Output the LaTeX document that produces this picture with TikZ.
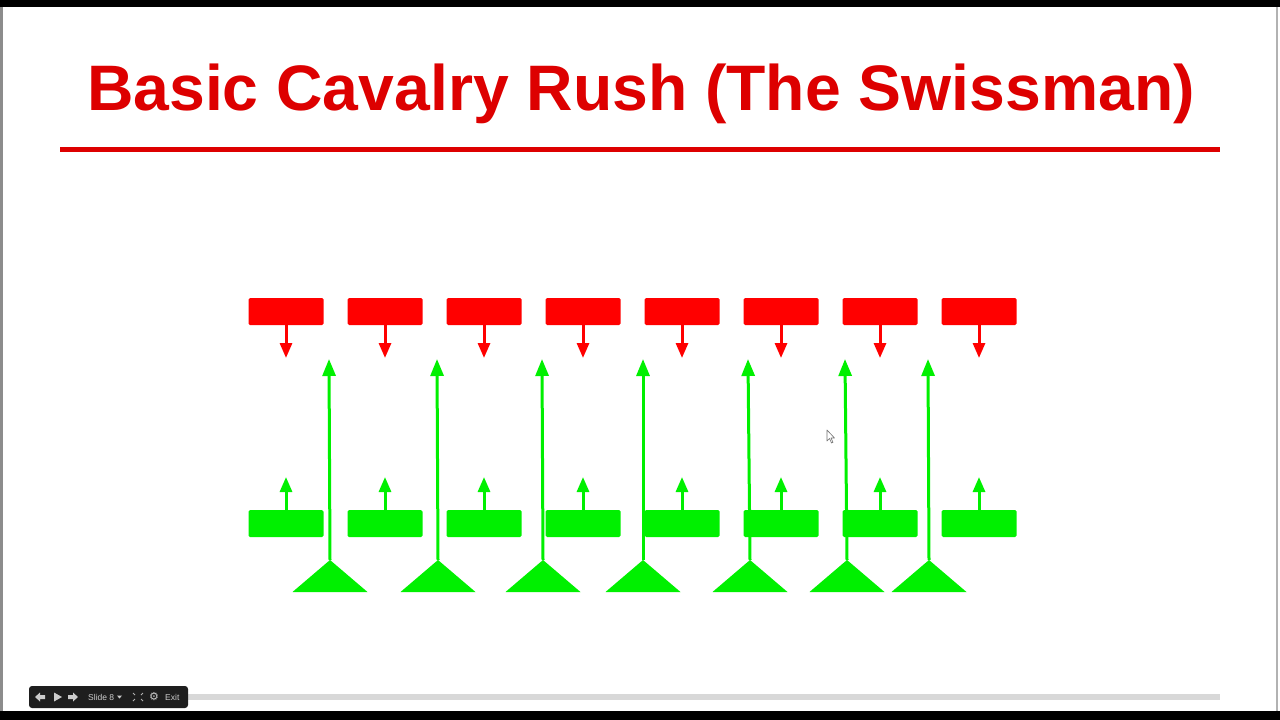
\documentclass[tikz,border=0pt]{standalone}
\usepackage{fontspec}
\setmainfont{Liberation Sans}
\newfontfamily\symfont{DejaVu Sans}
\usetikzlibrary{arrows.meta}
\definecolor{titlered}{HTML}{DD0000}
\definecolor{boxred}{HTML}{FF0000}
\definecolor{boxgreen}{HTML}{00F000}
\definecolor{barbg}{HTML}{1E1E1E}
\definecolor{progress}{HTML}{D8D8D8}
\tikzset{
  redbox/.style={draw=none,fill=boxred,minimum width=75pt,minimum height=27pt,inner sep=0pt,rounded corners=1.5pt},
  greenbox/.style={draw=none,fill=boxgreen,minimum width=75pt,minimum height=27pt,inner sep=0pt,rounded corners=1.5pt},
  redarrow/.style={draw=boxred,line width=3pt,-{Triangle[width=12pt,length=15pt]}},
  greenarrow/.style={draw=boxgreen,line width=3pt,-{Triangle[width=12pt,length=15pt]}},
  longarrow/.style={draw=boxgreen,line width=3pt,-{Triangle[width=13pt,length=17pt]}},
  tri/.style={fill=boxgreen,draw=none},
  bartext/.style={text=white!80!black,font=\fontsize{8.5}{9}\selectfont,inner sep=0pt}
}
\begin{document}
\begin{tikzpicture}[x=1pt,y=-1pt]
\useasboundingbox (0,0) rectangle (1280,720);
% screen frame
\fill[white] (0,0) rectangle (1280,720);
\fill[black] (0,0) rectangle (1280,7);
\fill[black] (0,711) rectangle (1280,720);
\fill[black!45] (0,7) rectangle (2.5,711);
\fill[black!30] (1276,7) rectangle (1277.5,711);
% title
\node[anchor=base,text=titlered,font=\fontsize{64.3}{70}\selectfont\bfseries,inner sep=0pt] (title) at (641,110) {Basic Cavalry Rush (The Swissman)};
\draw[titlered,line width=5pt] (60,149.5) -- (1220,149.5);
% boxes and short arrows
\foreach \i/\x in {1/286,2/385,3/484,4/583,5/682,6/781,7/880,8/979}{
  \node[redbox] (r\i) at (\x,311.5) {};
  \node[greenbox] (g\i) at (\x,523.5) {};
  \coordinate (rt\i) at (\x,358);
  \coordinate (gt\i) at (\x,477);
  \draw[redarrow] (r\i.south) -- (rt\i);
  \draw[greenarrow] (g\i.north) -- (gt\i);
}
% triangles and long arrows
\foreach \i/\a/\t in {1/330/329,2/438/437,3/543/542,4/643/643,5/750/748,6/847/845,7/929/928}{
  \coordinate (ta\i) at (\a,560);
  \coordinate (tl\i) at (\a-37.5,592);
  \coordinate (tr\i) at (\a+37.5,592);
  \coordinate (tip\i) at (\t,359);
  \fill[tri] (ta\i) -- (tr\i) -- (tl\i) -- cycle;
  \draw[longarrow] (ta\i) -- (tip\i);
}
% mouse cursor
\draw[black!55,fill=white,line width=0.6pt,line join=round] (827,430) -- (827,441) -- (829.5,438.5) -- (831.5,443) -- (833,442.3) -- (831,438) -- (834.5,438) -- cycle;
% progress bar and toolbar
\fill[progress] (186,694) rectangle (1220,700);
\fill[barbg,rounded corners=3pt] (29,686) rectangle (188,708);
\fill[white!80!black] (35,697) -- (40,692.5) -- (40,695) -- (45,695) -- (45,699) -- (40,699) -- (40,701.5) -- cycle;
\fill[white!80!black] (54,692.5) -- (62,697) -- (54,701.5) -- cycle;
\fill[white!80!black] (78,697) -- (73,692.5) -- (73,695) -- (68,695) -- (68,699) -- (73,699) -- (73,701.5) -- cycle;
\node[bartext,anchor=west] (slide) at (88,697) {Slide 8};
\fill[white!80!black] (117,695.5) -- (122,695.5) -- (119.5,698.5) -- cycle;
\draw[white!70!black,line width=0.8pt] (133,693) -- (135,695) (143,693) -- (141,695) (133,701) -- (135,699) (143,701) -- (141,699);
\node[bartext,font=\symfont\fontsize{11}{11}\selectfont,anchor=center] (gear) at (154,697) {⚙};
\node[bartext,anchor=west] (exit) at (165,697) {Exit};
\end{tikzpicture}
\end{document}
